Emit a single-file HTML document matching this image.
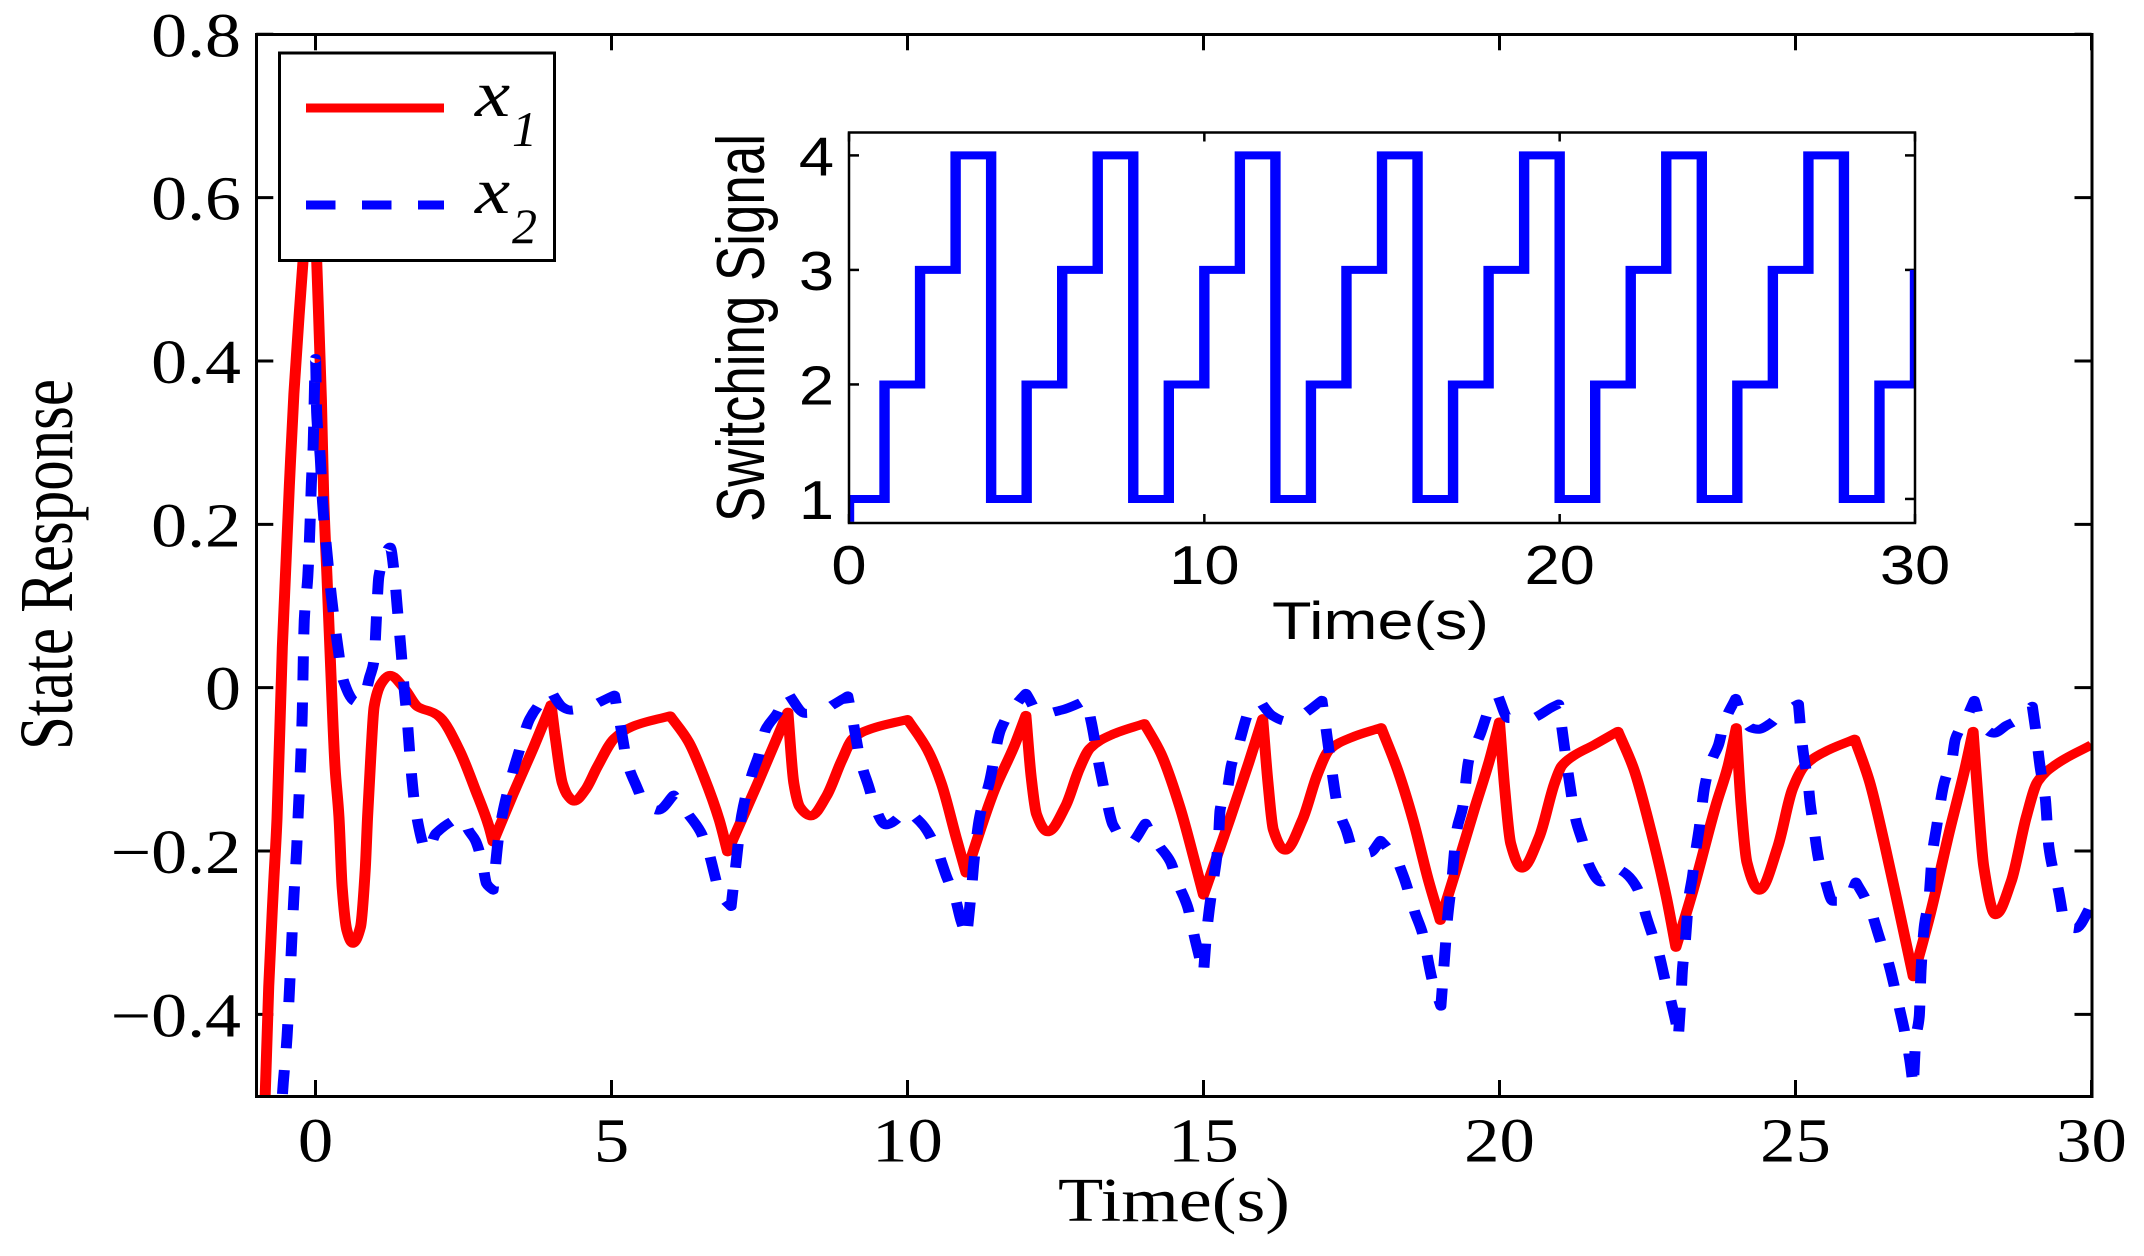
<!DOCTYPE html>
<html lang="en">
<head>
<meta charset="utf-8">
<title>State Response and Switching Signal</title>
<style>
html,body{margin:0;padding:0;background:#fff;}
svg{display:block;}
.serif{font-family:"Liberation Serif",serif;fill:#000;}
.sans{font-family:"Liberation Sans",sans-serif;fill:#000;}
</style>
</head>
<body>
<svg id="chart" xmlns="http://www.w3.org/2000/svg" width="2144" height="1256" viewBox="0 0 2144 1256">
  <defs>
    <clipPath id="main-clip"><rect x="256" y="34" width="1836" height="1062"/></clipPath>
    <clipPath id="inset-clip"><rect x="849" y="132.5" width="1066" height="390.5"/></clipPath>
  </defs>
  <rect x="0" y="0" width="2144" height="1256" fill="#fff"/>
  <g id="main-ticks"></g>
  <g clip-path="url(#main-clip)">
    <g transform="scale(1.22 1)">
      <path id="x1-line" fill="none" stroke="#ff0000" stroke-width="9" stroke-linejoin="round"/>
      <path id="x2-line" fill="none" stroke="#0000ff" stroke-width="9" stroke-dasharray="24 22" stroke-dashoffset="41" stroke-linejoin="round"/>
    </g>
  </g>
  <rect x="256.5" y="34.5" width="1835.5" height="1062" fill="none" stroke="#000" stroke-width="3"/>
  <g id="main-labels"></g>
  <text class="serif" x="1058" y="1221" font-size="62" textLength="232" lengthAdjust="spacingAndGlyphs">Time(s)</text>
  <text class="serif" transform="translate(72 750) scale(1.27 1) rotate(-90)" font-size="60" textLength="371" lengthAdjust="spacingAndGlyphs">State Response</text>

  <g>
    <rect x="279.5" y="53" width="275" height="207.5" fill="#fff" stroke="#000" stroke-width="3"/>
    <line x1="306" y1="108" x2="444" y2="108" stroke="#ff0000" stroke-width="9"/>
    <line x1="306" y1="205" x2="444" y2="205" stroke="#0000ff" stroke-width="9" stroke-dasharray="29.5 26.5"/>
    <text class="serif" transform="translate(475 116) scale(1.2 1)" font-size="66" font-style="italic">x</text>
    <text class="serif" x="512" y="146" font-size="50" font-style="italic">1</text>
    <text class="serif" transform="translate(475 213) scale(1.2 1)" font-size="66" font-style="italic">x</text>
    <text class="serif" x="512" y="243" font-size="50" font-style="italic">2</text>
  </g>

  <g id="inset-ticks"></g>
  <g clip-path="url(#inset-clip)">
    <g transform="scale(1.3 1)">
      <path id="switch-line" fill="none" stroke="#0000ff" stroke-width="8" stroke-linejoin="miter"/>
    </g>
  </g>
  <rect x="849" y="132.5" width="1066" height="390.5" fill="none" stroke="#000" stroke-width="2.5"/>
  <g id="inset-labels"></g>
  <text class="sans" x="1272" y="639" font-size="53" textLength="217" lengthAdjust="spacingAndGlyphs">Time(s)</text>
  <text class="sans" transform="translate(764 522) scale(1.27 1) rotate(-90)" font-size="53" textLength="388" lengthAdjust="spacingAndGlyphs">Switching Signal</text>
</svg>

<script>
const x1Times = [-0.87,-0.85,-0.79,-0.71,-0.65,-0.56,-0.427,-0.365,-0.25,-0.21,-0.05,0.02,0.1,0.14,0.194,0.256,0.33,0.396,0.45,0.53,0.63,0.76,0.84,0.88,0.94,0.99,1.11,1.26,1.5,1.73,2,2.1,2.43,2.7,2.93,3,
  3.34,3.69,3.98,4.04,4.17,4.27,4.37,4.56,4.76,5.05,5.34,5.99,6.3,6.56,6.82,6.96,7.27,7.47,7.98,8.08,8.18,8.37,8.63,8.89,9.08,9.4,10,10.34,10.57,10.82,10.99,
  11.47,11.8,12,12.09,12.18,12.37,12.67,12.9,13.08,13.44,14,14.28,14.6,14.86,15,15.44,15.76,16,16.09,16.18,16.38,16.67,16.93,17.12,17.5,18,18.28,18.54,18.8,19,
  19.25,19.57,19.83,20,20.09,20.19,20.38,20.67,20.93,21.05,21.24,21.6,22,22.27,22.56,22.82,22.98,23.27,23.66,23.86,24,24.08,24.18,24.39,24.7,24.95,25.15,25.47,26,
  26.25,26.5,26.76,26.99,27.28,27.6,27.86,28,28.09,28.18,28.38,28.64,28.9,29.09,29.4,30];
const x1Values = [-0.56,-0.5,-0.366,-0.244,-0.16,0.05,0.27,0.36,0.483,0.523,0.68,0.523,0.352,0.23,0.136,0.025,-0.097,-0.158,-0.244,-0.297,-0.313,-0.293,-0.223,-0.158,-0.0765,-0.0235,0.005,0.015,-0.001,-0.0235,-0.031,-0.036,-0.0765,-0.125,-0.17,-0.189,
  -0.13,-0.072,-0.021,-0.056,-0.117,-0.133,-0.139,-0.125,-0.097,-0.062,-0.048,-0.0345,-0.066,-0.109,-0.162,-0.201,-0.15,-0.117,-0.03,-0.117,-0.146,-0.157,-0.133,-0.089,-0.062,-0.05,-0.039,-0.0765,-0.117,-0.183,-0.227,
  -0.125,-0.072,-0.034,-0.11,-0.155,-0.1765,-0.145,-0.1,-0.0745,-0.058,-0.044,-0.0806,-0.146,-0.215,-0.254,-0.162,-0.093,-0.038,-0.117,-0.174,-0.199,-0.162,-0.105,-0.0765,-0.061,-0.049,-0.101,-0.162,-0.236,-0.285,
  -0.227,-0.15,-0.089,-0.042,-0.125,-0.191,-0.221,-0.183,-0.117,-0.096,-0.084,-0.07,-0.0535,-0.1,-0.176,-0.257,-0.318,-0.248,-0.143,-0.096,-0.049,-0.143,-0.214,-0.248,-0.195,-0.124,-0.096,-0.0795,-0.063,
  -0.115,-0.19,-0.276,-0.354,-0.276,-0.176,-0.1,-0.0535,-0.143,-0.219,-0.278,-0.238,-0.158,-0.115,-0.094,-0.07];

const x2Times = [-0.6,-0.56,-0.48,-0.44,-0.365,-0.32,-0.287,-0.25,-0.225,-0.19,-0.13,-0.09,-0.07,-0.04,0,0.02,0.08,0.12,0.19,0.27,0.37,0.47,0.68,0.8,0.915,0.99,1.03,1.07,1.15,1.26,1.33,1.38,1.44,1.5,1.55,1.61,1.69,1.885,2.04,2.5,2.58,2.7,2.82,2.89,3,
  3.1,3.26,3.43,3.62,3.84,3.98,4.17,4.3,4.59,5.05,5.14,5.27,5.4,5.59,5.79,6.05,6.24,6.5,6.63,6.85,7.02,7.11,7.2,7.37,7.5,7.6,7.8,7.98,8.27,8.5,8.73,8.99,
  9.07,9.21,9.34,9.47,9.63,10,10.28,10.5,10.66,10.8,10.9,11,11.09,11.12,11.22,11.38,11.57,11.8,12,12.24,12.6,13.02,13.11,13.23,13.37,13.47,13.76,14.02,14.2,14.44,14.57,14.73,14.86,15,
  15.05,15.1,15.15,15.25,15.28,15.41,15.47,15.6,15.76,15.96,16.15,16.38,16.7,17,17.05,17.15,17.28,17.41,17.54,17.8,17.99,18.25,18.38,18.57,18.7,18.86,19.01,
  19.06,19.09,19.12,19.19,19.28,19.38,19.48,19.67,19.8,19.98,20.15,20.51,20.9,21,21.09,21.16,21.29,21.41,21.51,21.72,21.98,22.14,22.37,22.47,22.6,22.7,22.79,22.89,22.98,23.02,
  23.07,23.09,23.13,23.2,23.26,23.31,23.37,23.47,23.57,23.7,23.79,23.99,24.08,24.24,24.37,24.57,24.76,25.05,25.1,25.15,25.21,25.25,25.31,25.39,25.5,25.63,25.86,26.02,26.25,26.44,26.57,26.67,26.76,26.86,26.93,26.99,
  27.03,27.09,27.12,27.18,27.25,27.31,27.38,27.51,27.64,27.7,27.86,28.02,28.15,28.35,28.57,28.77,29,29.06,29.13,29.22,29.28,29.44,29.57,29.73,30];
const x2Values = [-0.56,-0.5,-0.427,-0.37,-0.256,-0.2,-0.146,-0.089,-0.034,0.0826,0.136,0.205,0.25,0.295,0.403,0.336,0.2825,0.226,0.168,0.111,0.054,0.009,-0.017,-0.015,0.013,0.034,0.087,0.136,0.156,0.172,0.14,0.099,0.05,-0.003,-0.04,-0.097,-0.15,-0.2,-0.178,-0.16,-0.174,-0.187,-0.215,-0.24,-0.248,
  -0.179,-0.123,-0.08,-0.038,-0.0155,-0.005,-0.0235,-0.0275,-0.0235,-0.0092,-0.042,-0.0925,-0.117,-0.144,-0.15,-0.1315,-0.15,-0.176,-0.199,-0.254,-0.268,-0.211,-0.156,-0.107,-0.08,-0.052,-0.0313,-0.007,-0.0315,-0.03,-0.0214,-0.01,
  -0.0377,-0.0908,-0.12,-0.15,-0.168,-0.15,-0.17,-0.199,-0.2315,-0.256,-0.2845,-0.305,-0.24,-0.215,-0.158,-0.117,-0.052,-0.0235,-0.007,-0.032,-0.0275,-0.0155,-0.044,-0.0925,-0.14,-0.168,-0.19,-0.166,-0.189,-0.213,-0.24,-0.268,-0.309,-0.35,
  -0.301,-0.27,-0.244,-0.189,-0.15,-0.1215,-0.095,-0.068,-0.031,-0.0174,-0.0336,-0.0407,-0.0315,-0.0155,-0.04,-0.0925,-0.15,-0.174,-0.2,-0.2025,-0.187,-0.209,-0.2315,-0.275,-0.301,-0.357,-0.39,
  -0.342,-0.313,-0.284,-0.24,-0.174,-0.1458,-0.0888,-0.058,-0.0315,-0.0112,-0.0377,-0.0377,-0.0235,-0.02,-0.069,-0.105,-0.162,-0.19,-0.217,-0.238,-0.221,-0.228,-0.252,-0.278,-0.3066,-0.328,-0.356,-0.382,-0.41,-0.43,
  -0.373,-0.345,-0.318,-0.257,-0.231,-0.2025,-0.174,-0.1196,-0.0913,-0.07,-0.044,-0.0132,-0.03,-0.049,-0.051,-0.044,-0.032,-0.02,-0.0605,-0.089,-0.115,-0.143,-0.172,-0.21,-0.2356,-0.2615,-0.2615,-0.238,-0.2687,-0.311,-0.337,-0.366,-0.394,-0.427,-0.4555,-0.489,
  -0.427,-0.403,-0.347,-0.29,-0.2615,-0.205,-0.172,-0.117,-0.089,-0.063,-0.0416,-0.0156,-0.046,-0.0557,-0.046,-0.039,-0.0227,-0.053,-0.096,-0.136,-0.195,-0.2475,-0.292,-0.295,-0.266];

const switchStates = [1,2,3,4,1,2,3,4,1,2,3,4,1,2,3,4,1,2,3,4,1,2,3,4,1,2,3,4,1,2,3];

const mainXTicks = [0,5,10,15,20,25,30];
const mainYTicks = [0.8,0.6,0.4,0.2,0,-0.2,-0.4];
const mainYLabels = ['0.8','0.6','0.4','0.2','0','\u22120.2','\u22120.4'];
const insetXTicks = [0,10,20,30];
const insetYTicks = [1,2,3,4];

const NS = 'http://www.w3.org/2000/svg';
const mainLeft = 256.3, mainRight = 2091.5, mainTop = 34.3, mainBottom = 1096;
const insetLeft = 849, insetRight = 1915, insetTop = 132.5, insetBottom = 523;
const mainStretch = 1.22, insetStretch = 1.3;

function mx(t){ return mainLeft + (t + 1) / 31 * (mainRight - mainLeft); }
function my(v){ return mainTop + (0.8 - v) / 1.3 * (mainBottom - mainTop); }
function ix(t){ return insetLeft + t / 30 * (insetRight - insetLeft); }
function iy(s){ return insetTop + (4.2 - s) / 3.41 * (insetBottom - insetTop); }

// Monotone cubic curve through the data, with one-sided tangents at switching corners.
function smoothPath(ts, vs, fx, fy, isCorner){
  const n = ts.length, s = [];
  for (let i = 0; i < n - 1; i++) { s.push((vs[i + 1] - vs[i]) / (ts[i + 1] - ts[i])); }
  const mL = new Array(n), mR = new Array(n);
  mL[0] = mR[0] = s[0];
  mL[n - 1] = mR[n - 1] = s[n - 2];
  for (let i = 1; i < n - 1; i++) {
    if (isCorner(ts[i])) { mL[i] = s[i - 1]; mR[i] = s[i]; }
    else if (s[i - 1] * s[i] <= 0) { mL[i] = mR[i] = 0; }
    else {
      const h0 = ts[i] - ts[i - 1], h1 = ts[i + 1] - ts[i];
      const w0 = 2 * h1 + h0, w1 = h1 + 2 * h0;
      mL[i] = mR[i] = (w0 + w1) / (w0 / s[i - 1] + w1 / s[i]);
    }
  }
  let d = 'M' + fx(ts[0]).toFixed(2) + ' ' + fy(vs[0]).toFixed(2);
  for (let i = 0; i < n - 1; i++) {
    const h = (ts[i + 1] - ts[i]) / 3;
    d += ' C' + fx(ts[i] + h).toFixed(2) + ' ' + fy(vs[i] + mR[i] * h).toFixed(2) +
         ' ' + fx(ts[i + 1] - h).toFixed(2) + ' ' + fy(vs[i + 1] - mL[i + 1] * h).toFixed(2) +
         ' ' + fx(ts[i + 1]).toFixed(2) + ' ' + fy(vs[i + 1]).toFixed(2);
  }
  return d;
}
function nearSwitch(t){ return t >= 3 && Math.abs(t - Math.round(t)) < 0.06; }
function x1Corner(t){ return nearSwitch(t) && ((Math.round(t) % 4) !== 1); }

function stretchedX(t){ return mx(t) / mainStretch; }
document.getElementById('x1-line').setAttribute('d', smoothPath(x1Times, x1Values, stretchedX, my, x1Corner));
document.getElementById('x2-line').setAttribute('d', smoothPath(x2Times, x2Values, stretchedX, my, nearSwitch));

let stepPath = 'M' + (ix(0) / insetStretch).toFixed(2) + ' ' + iy(0.8).toFixed(2);
switchStates.forEach(function(s, i){
  stepPath += ' L' + (ix(i) / insetStretch).toFixed(2) + ' ' + iy(s).toFixed(2);
  if (i < 30) { stepPath += ' L' + (ix(i + 1) / insetStretch).toFixed(2) + ' ' + iy(s).toFixed(2); }
});
document.getElementById('switch-line').setAttribute('d', stepPath);

function tickLine(parent, x1, y1, x2, y2, w){
  const l = document.createElementNS(NS, 'line');
  
  
  l.setAttribute('x1', x1); l.setAttribute('y1', y1);
  l.setAttribute('x2', x2); l.setAttribute('y2', y2);
  l.setAttribute('stroke', '#000'); l.setAttribute('stroke-width', w);
  parent.appendChild(l);
}
function label(parent, cls, str, x, y, size, anchor, sx){
  const t = document.createElementNS(NS, 'text');
  
  
  t.setAttribute('class', cls);
  t.setAttribute('transform', 'translate(' + x + ' ' + y + ') scale(' + sx + ' 1)');
  t.setAttribute('font-size', size);
  t.setAttribute('text-anchor', anchor);
  t.textContent = str;
  parent.appendChild(t);
}

const mainTicksG = document.getElementById('main-ticks');
const mainLabelsG = document.getElementById('main-labels');
mainXTicks.forEach(function(t){
  const x = mx(t);
  tickLine(mainTicksG, x, mainBottom, x, mainBottom - 16, 3);
  tickLine(mainTicksG, x, mainTop, x, mainTop + 16, 3);
  label(mainLabelsG, 'serif', String(t), x, 1161.5, 62, 'middle', 1.14);
});
mainYTicks.forEach(function(v, i){
  const y = my(v);
  tickLine(mainTicksG, mainLeft, y, mainLeft + 17, y, 3);
  tickLine(mainTicksG, mainRight, y, mainRight - 17, y, 3);
  label(mainLabelsG, 'serif', mainYLabels[i], 241, y + 22, 62, 'end', 1.16);
});

const insetTicksG = document.getElementById('inset-ticks');
const insetLabelsG = document.getElementById('inset-labels');
insetXTicks.forEach(function(t){
  const x = ix(t);
  tickLine(insetTicksG, x, insetBottom, x, insetBottom - 9, 2.5);
  tickLine(insetTicksG, x, insetTop, x, insetTop + 9, 2.5);
  label(insetLabelsG, 'sans', String(t), x, 584, 55, 'middle', 1.15);
});
insetYTicks.forEach(function(s){
  const y = iy(s);
  tickLine(insetTicksG, insetLeft, y, insetLeft + 10, y, 2.5);
  tickLine(insetTicksG, insetRight, y, insetRight - 10, y, 2.5);
  label(insetLabelsG, 'sans', String(s), 834, y + 20, 55, 'end', 1.15);
});
</script>
</body>
</html>
